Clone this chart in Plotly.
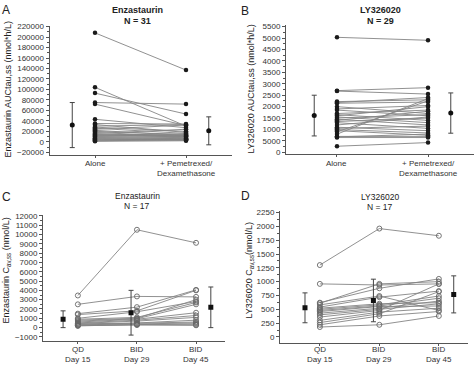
import plotly.graph_objects as go

# ---------------- data ----------------
A_alone = [208000,104000,93000,75000,72000,43000,35000,33000,30000,28000,26000,24000,22000,20000,18000,16000,15000,14000,13000,12000,11000,10000,9000,8000,7000,6000,5000,4000,3000,2000,1000]
A_pem   = [137000,30000,53000,72000,31000,27000,34000,18000,33000,20000,16000,32000,12000,14000,10000,24000,12000,9000,15000,11000,13000,8000,10000,6000,7000,5000,4000,5000,3000,4000,2000]
A_mean = [32000, 21000]
A_sd = [43000, 26700]

B_alone = [5030,2700,2680,2220,2180,2150,2000,1900,1850,1700,1650,1600,1550,1500,1450,1400,1350,1300,1200,1100,1050,1000,950,900,800,700,680,650,270]
B_pem   = [4900,2830,2550,2300,2400,2200,1700,2050,1600,1850,1400,2000,1300,1650,1200,1800,1500,1050,1550,950,1150,850,750,2250,2350,700,800,650,430]
B_mean = [1610, 1720]
B_sd = [890, 880]
B_ticktext = ["0","5000","1000","1500","2000","2500","3000","3500","4000","4500","5000","5500"]

AB_categories = [["Alone"], ["+ Pemetrexed/", "Dexamethasone"]]

C_day15 = [3450,2500,1500,1400,1000,900,800,700,600,500,450,400,350,300,250,200,200]
C_day29 = [10500,3350,2200,1800,1700,1100,1000,950,900,800,700,500,450,400,350,300,300]
C_day45 = [9100,3300,4050,4000,2800,2700,3000,2500,1600,1300,1100,800,600,500,400,300,250]
C_mean = [900, 1600, 2180]
C_sd = [900, 2400, 2180]

D_day15 = [1300,960,620,610,580,540,520,500,480,460,430,400,360,300,260,220,180]
D_day29 = [1960,940,880,960,740,720,600,580,560,550,520,500,480,450,420,380,220]
D_day45 = [1830,960,1050,1000,480,830,620,740,700,560,650,600,960,520,820,460,380]
D_mean = [527, 660, 770]
D_sd = [270, 385, 335]

CD_categories = [["QD", "Day 15"], ["BID", "Day 29"], ["BID", "Day 45"]]

# ---------------- layout helpers ----------------
W, H = 474, 366
def dx(a, b):
    return [a / W, b / W]
def dy(top, bottom):
    return [1 - bottom / H, 1 - top / H]

FONT = "Arial, Liberation Sans, sans-serif"
LINE_C = "#858585"
AX_C = "#555555"

fig = go.Figure()

def add_pairs(xa, ya, xvals, series_list, open_marker):
    n = len(series_list[0])
    for i in range(n):
        yv = [s[i] for s in series_list]
        if open_marker:
            mk = dict(symbol="circle-open", size=5, color="#666666", line=dict(width=0.9, color="#666666"))
        else:
            mk = dict(symbol="circle", size=4.5, color="#1a1a1a")
        fig.add_trace(go.Scatter(x=xvals, y=yv, mode="lines+markers", xaxis=xa, yaxis=ya,
                                 line=dict(color=LINE_C, width=0.9), marker=mk,
                                 showlegend=False, hoverinfo="skip"))

def add_err(xa, ya, xs, means, sds, symbol):
    fig.add_trace(go.Scatter(x=xs, y=means, mode="markers", xaxis=xa, yaxis=ya,
                             marker=dict(symbol=symbol, size=5, color="#111111"),
                             error_y=dict(type="data", array=sds, visible=True, color="#444444",
                                          thickness=1, width=2.5),
                             showlegend=False, hoverinfo="skip"))

# Panel A
add_pairs("x", "y", [1, 2], [A_alone, A_pem], False)
add_err("x", "y", [0.75, 2.25], A_mean, A_sd, "circle")
# Panel B
add_pairs("x2", "y2", [1, 2], [B_alone, B_pem], False)
add_err("x2", "y2", [0.75, 2.25], B_mean, B_sd, "circle")
# Panel C
add_pairs("x3", "y3", [1, 2, 3], [C_day15, C_day29, C_day45], True)
add_err("x3", "y3", [0.75, 1.9, 3.25], C_mean, C_sd, "square")
# Panel D
add_pairs("x4", "y4", [1, 2, 3], [D_day15, D_day29, D_day45], True)
add_err("x4", "y4", [0.75, 1.9, 3.25], D_mean, D_sd, "square")

tickfont = dict(family=FONT, size=8, color="#333333")

def xaxis(domain, rng, n, anchor):
    return dict(domain=domain, range=rng, anchor=anchor, tickmode="array",
                tickvals=list(range(1, n + 1)), showticklabels=False,
                showline=True, linecolor=AX_C, linewidth=1, ticks="outside", ticklen=2,
                tickcolor=AX_C, showgrid=False, zeroline=False, fixedrange=True)

def yaxis(domain, rng, dtick, minor_dtick, anchor, tickvals=None, ticktext=None):
    d = dict(domain=domain, range=rng, anchor=anchor, dtick=dtick, tick0=0, tickformat="d",
             showline=True, linecolor=AX_C, linewidth=1, ticks="outside", ticklen=3,
             tickcolor=AX_C, showgrid=False, zeroline=False, tickfont=tickfont,
             minor=dict(ticks="outside", ticklen=2, dtick=minor_dtick, tick0=0, tickcolor=AX_C, showgrid=False),
             fixedrange=True)
    if tickvals is not None:
        d.update(tickmode="array", tickvals=tickvals, ticktext=ticktext)
    return d

fig.update_layout(
    width=W, height=H, margin=dict(l=0, r=0, t=0, b=0),
    paper_bgcolor="white", plot_bgcolor="white", hovermode=False,
    xaxis=xaxis(dx(49.5, 231.5), [0.5, 2.5], len(AB_categories), "y"),
    yaxis=yaxis(dy(22.9, 155), [-26000, 222000], 20000, 10000, "x"),
    xaxis2=xaxis(dx(286, 474), [0.44, 2.505], len(AB_categories), "y2"),
    yaxis2=yaxis(dy(22.8, 154), [-90, 5550], 500, 250, "x2",
                 tickvals=[i * 500 for i in range(len(B_ticktext))], ticktext=B_ticktext),
    xaxis3=xaxis(dx(43, 225), [0.41, 3.49], len(CD_categories), "y3"),
    yaxis3=yaxis(dy(215.4, 343.3), [-1400, 12100], 1000, 500, "x3"),
    xaxis4=xaxis(dx(280, 468), [0.33, 3.49], len(CD_categories), "y4"),
    yaxis4=yaxis(dy(211.9, 346), [-115, 2270], 250, 125, "x4"),
)

def ann(text, px, py, size=9, bold=False, angle=0, xanchor="center", yanchor="middle"):
    t = "<b>%s</b>" % text if bold else text
    fig.add_annotation(text=t, x=px / W, y=1 - py / H, xref="paper", yref="paper",
                       showarrow=False, textangle=angle, xanchor=xanchor, yanchor=yanchor,
                       font=dict(family=FONT, size=size, color="#222222"))

# category labels below x axes (one annotation per text line, anchored to the data x position)
def cat_labels(xref, cats, first_py, step):
    for i, lines in enumerate(cats):
        for j, line in enumerate(lines):
            fig.add_annotation(text=line, x=i + 1, xref=xref, y=1 - (first_py + j * step) / H, yref="paper",
                               showarrow=False, xanchor="center", yanchor="middle",
                               font=dict(family=FONT, size=8, color="#333333"))

cat_labels("x", AB_categories, 163, 10)
cat_labels("x2", AB_categories, 163, 10)
cat_labels("x3", CD_categories, 352, 10)
cat_labels("x4", CD_categories, 352, 10)

# panel letters
ann("A", 0, 7, size=12, xanchor="left")
ann("B", 239, 8, size=12, xanchor="left")
ann("C", 0, 197, size=12, xanchor="left")
ann("D", 239, 196, size=12, xanchor="left")

# titles
ann("Enzastaurin", 137, 7, size=9, bold=True)
ann("N = 31", 137, 18, size=9, bold=True)
ann("LY326020", 380, 7, size=9, bold=True)
ann("N = 29", 380, 18, size=9, bold=True)
ann("Enzastaurin", 137, 196, size=8.5)
ann("N = 17", 137, 206, size=8.5)
ann("LY326020", 380, 197, size=8.5)
ann("N = 17", 380, 207, size=8.5)

# y-axis titles
ann("Enzastaurin AUCtau,ss (nmol*h/L)", 8, 88, size=9, angle=-90)
ann("LY326020 AUCtau,ss (nmol*h/L)", 251, 88, size=9, angle=-90)
ann("Enzastaurin C<sub>av,ss</sub> (nmol/L)", 7, 272, size=9, angle=-90)
ann("LY326020 C<sub>av,ss</sub>(nmol/L)", 250, 272, size=9, angle=-90)

fig.write_html("out.html", config={"displayModeBar": False, "staticPlot": True},
               post_script="document.body.style.margin='0';document.body.style.overflow='hidden';")
